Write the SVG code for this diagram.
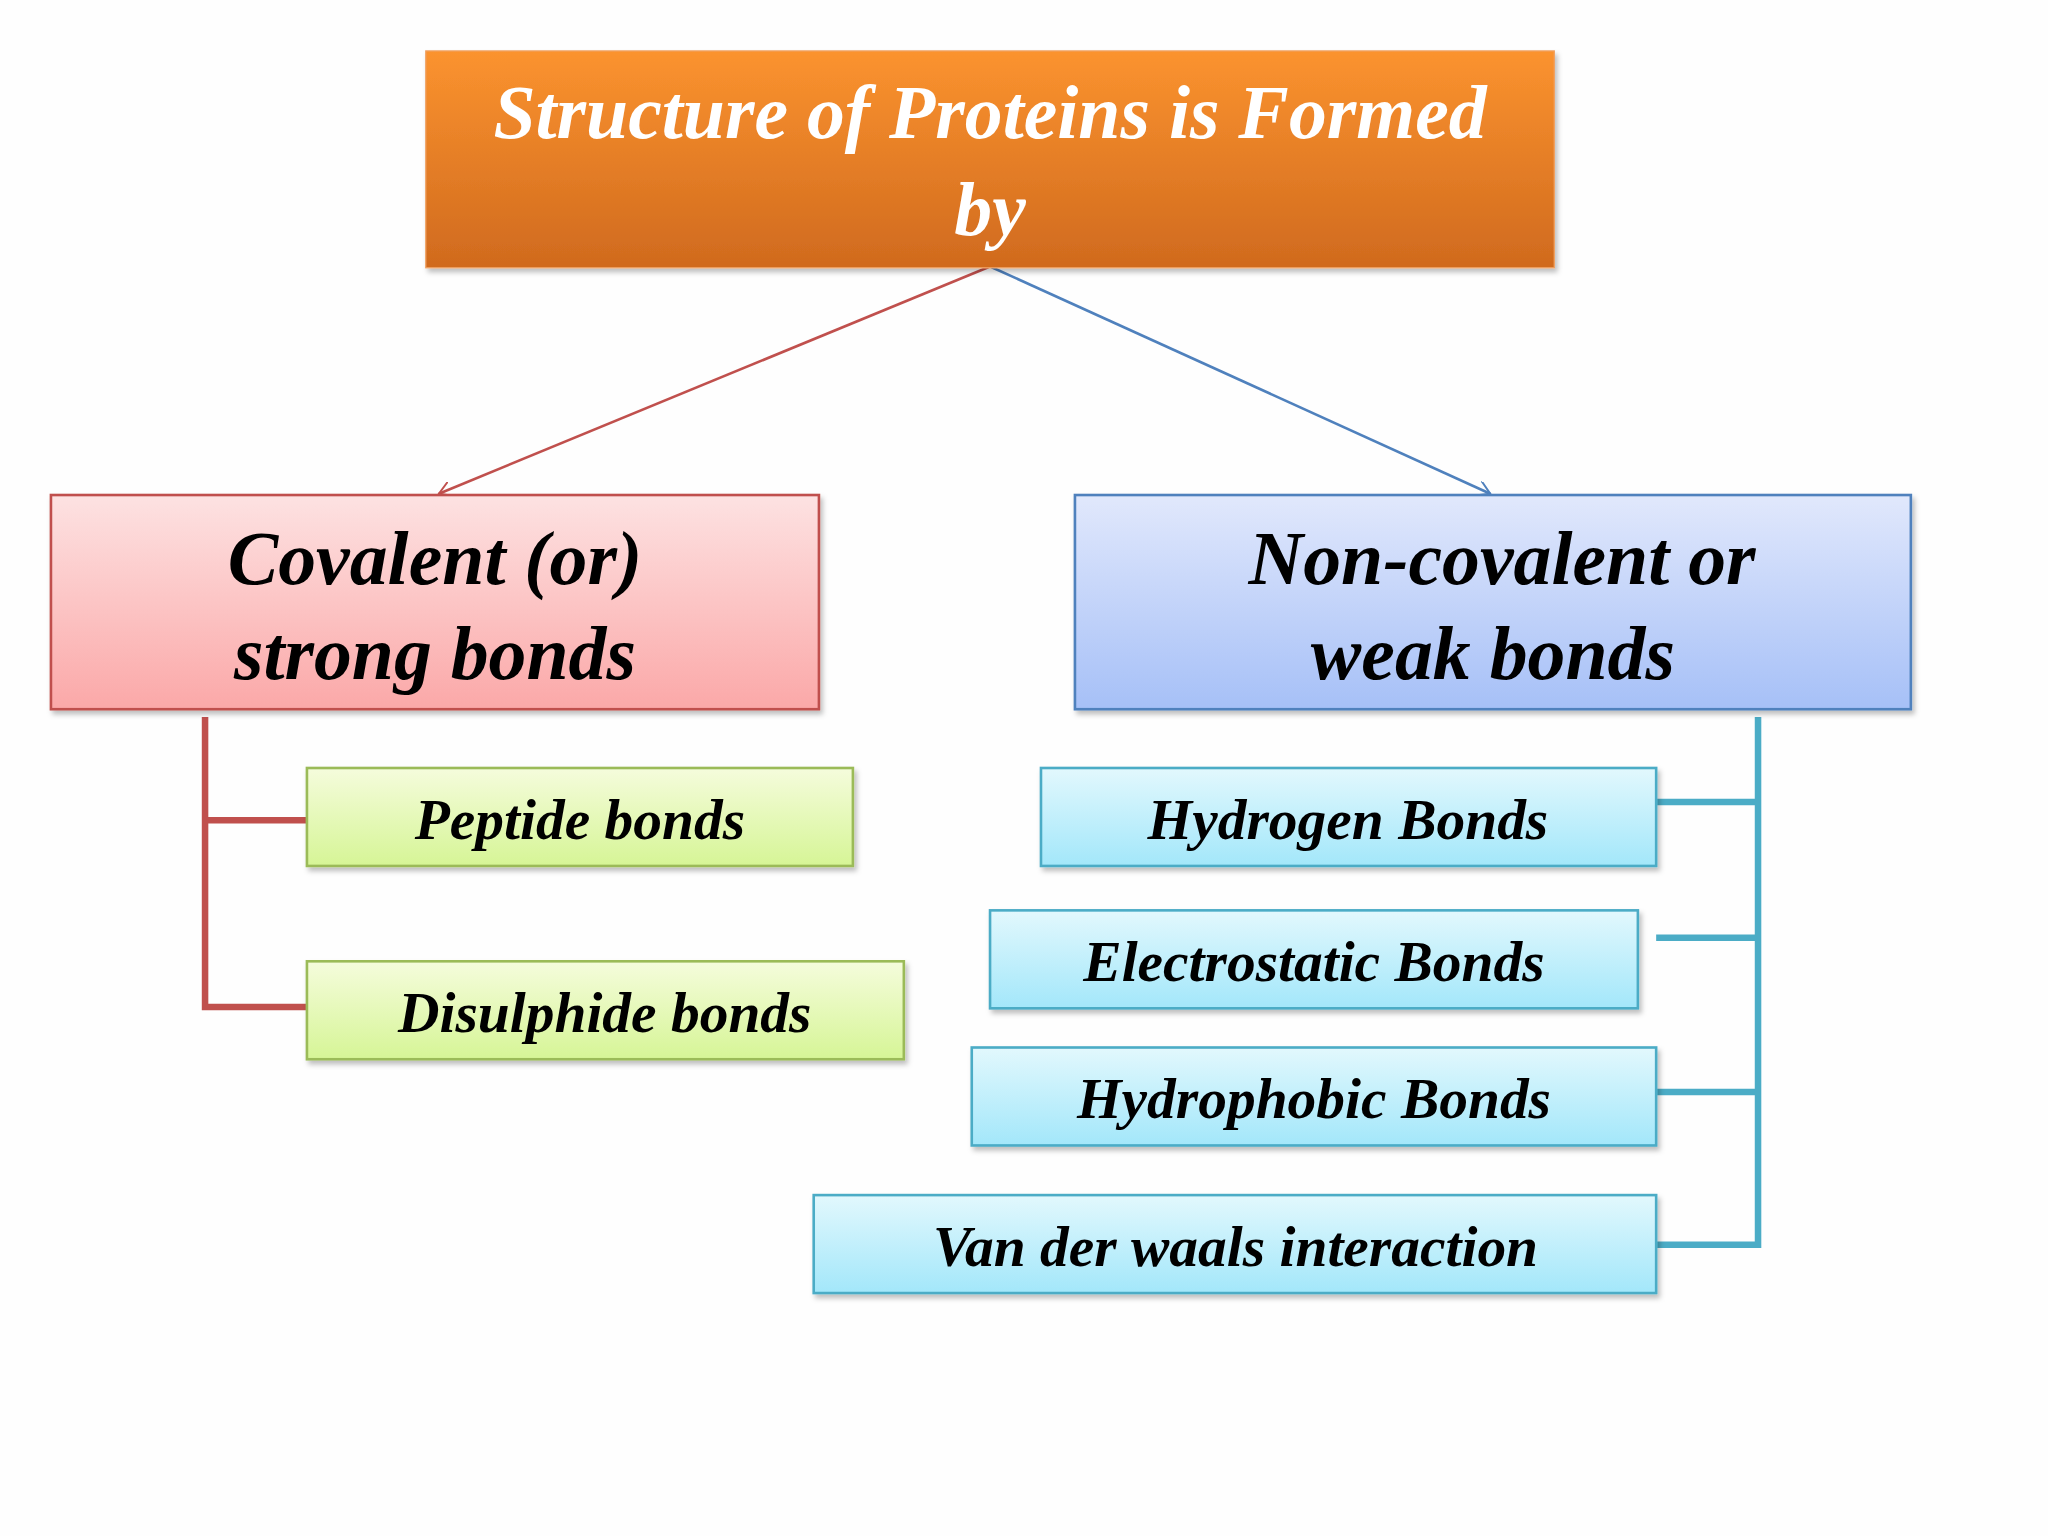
<svg xmlns="http://www.w3.org/2000/svg" width="2048" height="1536" viewBox="0 0 2048 1536">
<defs>
<linearGradient id="gO" x1="0" y1="0" x2="0" y2="1"><stop offset="0" stop-color="#fb932f"/><stop offset="1" stop-color="#d06a1e"/></linearGradient>
<linearGradient id="gR" x1="0" y1="0" x2="0" y2="1"><stop offset="0" stop-color="#fde2e2"/><stop offset="1" stop-color="#fba8a8"/></linearGradient>
<linearGradient id="gB" x1="0" y1="0" x2="0" y2="1"><stop offset="0" stop-color="#e1e8fc"/><stop offset="1" stop-color="#a6c0f7"/></linearGradient>
<linearGradient id="gG" x1="0" y1="0" x2="0" y2="1"><stop offset="0" stop-color="#f5fcdc"/><stop offset="1" stop-color="#d6f596"/></linearGradient>
<linearGradient id="gC" x1="0" y1="0" x2="0" y2="1"><stop offset="0" stop-color="#e2f8fd"/><stop offset="1" stop-color="#a3e7fa"/></linearGradient>
<filter id="sh" x="-5%" y="-10%" width="110%" height="130%"><feDropShadow dx="2" dy="3" stdDeviation="2" flood-color="#000" flood-opacity="0.25"/></filter>
<marker id="aR" markerWidth="12" markerHeight="12" refX="10" refY="6" orient="auto" markerUnits="userSpaceOnUse"><path d="M0,0 L10,6 L0,12" fill="none" stroke="#c0504d" stroke-width="1.5"/></marker>
<marker id="aB" markerWidth="12" markerHeight="12" refX="10" refY="6" orient="auto" markerUnits="userSpaceOnUse"><path d="M0,0 L10,6 L0,12" fill="none" stroke="#4f81bd" stroke-width="1.5"/></marker>
<style>
text{font-family:"Liberation Serif","Times New Roman",serif;font-weight:bold;font-style:italic;text-anchor:middle}
.t{fill:#fff;font-size:58px}
.h{fill:#000;font-size:58px}
.s{fill:#000;font-size:44px}
</style>
</defs>
<rect width="2048" height="1536" fill="#fefefe"/>
<g transform="scale(1.30612)">
<g id="connectors" fill="none">
<line x1="758" y1="204" x2="336" y2="378" stroke="#c0504d" stroke-width="2" marker-end="url(#aR)"/>
<line x1="758" y1="204" x2="1141" y2="378" stroke="#4f81bd" stroke-width="2" marker-end="url(#aB)"/>
<path d="M157,549 V771 H235 M157,628 H235" stroke="#c0504d" stroke-width="5"/>
<path d="M1346,549 V953 H1268 M1268,614 H1346 M1268,718 H1346 M1268,836 H1346" stroke="#4bacc6" stroke-width="5"/>
</g>
<g id="top"><rect x="326" y="39" width="864" height="166" fill="url(#gO)" stroke="#f0a060" stroke-width="1" filter="url(#sh)"/>
<text class="t" x="758" y="106">Structure of Proteins is Formed</text><text class="t" x="758" y="180">by</text></g>
<g id="covalent"><rect x="39" y="379" width="588" height="164" fill="url(#gR)" stroke="#c0504d" stroke-width="2" filter="url(#sh)"/>
<text class="h" x="333" y="447">Covalent (or)</text><text class="h" x="333" y="520">strong bonds</text></g>
<g id="noncovalent"><rect x="823" y="379" width="640" height="164" fill="url(#gB)" stroke="#4f81bd" stroke-width="2" filter="url(#sh)"/>
<text class="h" x="1150" y="447">Non-covalent or</text><text class="h" x="1143" y="520">weak bonds</text></g>
<g id="peptide"><rect x="235" y="588" width="418" height="75" fill="url(#gG)" stroke="#9bbb59" stroke-width="2" filter="url(#sh)"/><text class="s" x="444" y="642">Peptide bonds</text></g>
<g id="disulphide"><rect x="235" y="736" width="457" height="75" fill="url(#gG)" stroke="#9bbb59" stroke-width="2" filter="url(#sh)"/><text class="s" x="463" y="790">Disulphide bonds</text></g>
<g id="hydrogen"><rect x="797" y="588" width="471" height="75" fill="url(#gC)" stroke="#4bacc6" stroke-width="2" filter="url(#sh)"/><text class="s" x="1032" y="642">Hydrogen Bonds</text></g>
<g id="electrostatic"><rect x="758" y="697" width="496" height="75" fill="url(#gC)" stroke="#4bacc6" stroke-width="2" filter="url(#sh)"/><text class="s" x="1006" y="751">Electrostatic Bonds</text></g>
<g id="hydrophobic"><rect x="744" y="802" width="524" height="75" fill="url(#gC)" stroke="#4bacc6" stroke-width="2" filter="url(#sh)"/><text class="s" x="1006" y="856">Hydrophobic Bonds</text></g>
<g id="vanderwaals"><rect x="623" y="915" width="645" height="75" fill="url(#gC)" stroke="#4bacc6" stroke-width="2" filter="url(#sh)"/><text class="s" x="946" y="969">Van der waals interaction</text></g>
</g>
</svg>
